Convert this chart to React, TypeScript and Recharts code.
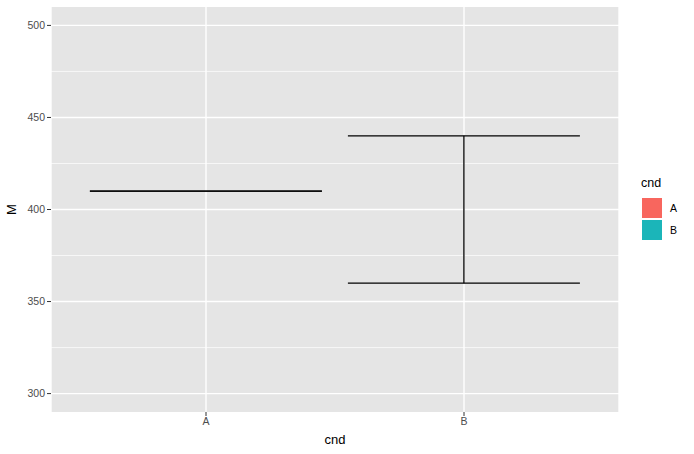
import React from 'react';
import { ComposedChart, Bar, XAxis, YAxis, CartesianGrid } from 'recharts';

const categories = ['A', 'B'];
const means = [410, 400];
const errors = [0, 40];
const fillColors = ['#F8665E', '#1BB5B9'];
const yTicks = [300, 350, 400, 450, 500];
const yMinor = [325, 375, 425, 475];

const data = categories.map((c, i) => ({
  cnd: c,
  M: means[i],
  range: [means[i] - errors[i], means[i] + errors[i]],
}));

const FONT = '"Liberation Sans", Arial, Helvetica, sans-serif';

const ErrorShape = (props: any) => {
  const { x, y, width, height } = props;
  const top = Math.min(y, y + height);
  const bot = Math.max(y, y + height);
  const mid = x + width / 2;
  return (
    <g stroke="#000" strokeWidth={1.3} fill="none">
      <line x1={x} x2={x + width} y1={top} y2={top} />
      <line x1={x} x2={x + width} y1={bot} y2={bot} />
      {bot - top > 0 && <line x1={mid} x2={mid} y1={top} y2={bot} />}
    </g>
  );
};

const LegendBox = () => (
  <div style={{ position: 'absolute', left: 641, top: 176, fontFamily: FONT, color: '#000' }}>
    <div style={{ fontSize: 12.5, lineHeight: '15px', height: 21, marginLeft: 0 }}>cnd</div>
    {categories.map((c, i) => (
      <div key={c} style={{ display: 'flex', alignItems: 'center', height: 22 }}>
        <div
          style={{
            width: 22,
            height: 22,
            background: fillColors[i],
            border: '1px solid #fff',
            boxSizing: 'border-box',
          }}
        />
        <span style={{ fontSize: 10.5, marginLeft: 7, color: '#000' }}>{c}</span>
      </div>
    ))}
  </div>
);

const tickStyle = { fill: '#4D4D4D', stroke: 'none', fontSize: 10.5 };

export default function App() {
  return (
    <div style={{ position: 'fixed', left: 0, top: 0, width: 694, height: 454, background: '#fff' }}>
      <ComposedChart
        width={694}
        height={454}
        data={data}
        margin={{ top: 7, right: 75, bottom: 0, left: 0 }}
        barCategoryGap="5%"
        style={{ fontFamily: FONT }}
      >
        <CartesianGrid
          fill="#E5E5E5"
          stroke="#fff"
          strokeWidth={0.7}
          vertical={false}
          horizontalValues={yMinor}
        />
        <CartesianGrid stroke="#fff" strokeWidth={1.4} horizontalValues={yTicks} />
        <XAxis
          dataKey="cnd"
          type="category"
          height={42}
          padding={{ left: 26, right: 26 }}
          axisLine={false}
          stroke="#4D4D4D"
          tickSize={4}
          tickLine={{ stroke: '#333', strokeWidth: 1 }}
          tick={tickStyle}
          tickMargin={2}
          label={(p: any) => {
            const vb = p.viewBox;
            return (
              <text x={vb.x + vb.width / 2} y={vb.y + 32} textAnchor="middle" fontSize={13} fill="#000">
                cnd
              </text>
            );
          }}
        />
        <YAxis
          width={51}
          domain={[290, 510]}
          ticks={yTicks}
          allowDataOverflow
          axisLine={false}
          stroke="#4D4D4D"
          tickSize={4}
          tickLine={{ stroke: '#333', strokeWidth: 1 }}
          tick={tickStyle}
          tickMargin={2}
          label={(p: any) => {
            const vb = p.viewBox;
            const cx = vb.x + 16;
            const cy = vb.y + vb.height / 2;
            return (
              <text x={cx} y={cy} textAnchor="middle" fontSize={13} fill="#000" transform={`rotate(-90, ${cx}, ${cy})`}>
                M
              </text>
            );
          }}
        />
        <Bar dataKey="range" isAnimationActive={false} shape={ErrorShape} />
      </ComposedChart>
      <LegendBox />
    </div>
  );
}
